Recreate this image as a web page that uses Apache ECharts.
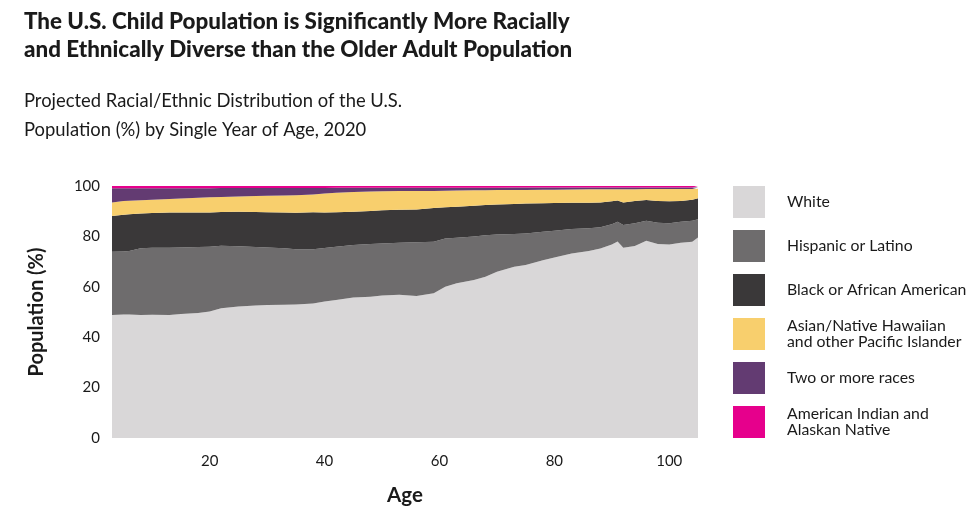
<!DOCTYPE html>
<html>
<head>
<meta charset="utf-8">
<script src="https://cdn.jsdelivr.net/npm/echarts@6/dist/echarts.min.js"></script>
<style>
html,body{margin:0;padding:0;background:#fff;}
#chart{width:980px;height:515px;}
</style>
</head>
<body>
<div id="chart"></div>
<script>
// Ages (single year of age)
var ages = [3,5,6,8,10,13,15,18,20,22,25,28,30,33,35,38,40,42,45,48,50,53,56,59,61,63,66,68,70,73,75,78,80,83,86,88,90,91,92,94,96,98,100,102,104,105];
// Percent of population by group
var white    = [48.8,49.0,49.0,48.8,48.9,48.8,49.2,49.6,50.2,51.5,52.2,52.6,52.8,52.9,53.0,53.4,54.2,54.8,55.8,56.1,56.5,56.8,56.3,57.4,60.0,61.4,62.7,64.0,66.0,68.0,68.7,70.5,71.6,73.2,74.2,75.2,76.8,78.0,75.5,76.2,78.3,77.0,76.8,77.5,77.9,79.6];
var hispanic = [25.1,25.0,25.2,26.5,26.6,26.7,26.4,26.2,25.7,24.8,23.9,23.2,22.8,22.4,21.9,21.5,21.2,21.1,20.8,20.9,20.7,20.7,21.4,20.5,19.2,18.1,17.3,16.5,14.8,13.0,12.5,11.3,10.6,9.7,9.0,8.4,8.0,7.8,9.0,9.0,7.9,8.4,8.4,8.3,8.3,7.2];
var black    = [14.2,14.6,14.6,13.8,13.8,14.0,13.9,13.7,13.6,13.4,13.7,13.9,14.0,14.2,14.5,14.7,14.1,13.7,13.2,13.1,13.2,13.1,13.0,13.4,12.4,12.3,12.2,12.0,11.9,11.9,11.9,11.4,11.1,10.5,10.2,9.9,9.1,8.4,9.0,8.8,8.2,8.6,8.7,8.2,8.3,8.3];
var asian    = [5.4,5.4,5.3,5.2,5.2,5.3,5.5,5.8,6.0,5.9,6.0,6.3,6.5,6.7,6.9,7.0,7.5,7.7,7.8,7.7,7.5,7.4,7.3,6.7,6.5,6.4,6.1,5.8,5.7,5.5,5.3,5.3,5.2,5.2,5.3,5.2,4.8,4.5,5.2,4.7,4.4,4.8,4.9,4.8,4.3,3.8];
var twoPlus  = [5.6,5.1,5.0,4.8,4.6,4.3,4.1,3.8,3.6,3.6,3.4,3.2,3.1,3.0,2.9,2.6,2.2,2.0,1.7,1.5,1.4,1.3,1.3,1.3,1.2,1.1,1.0,1.0,0.9,1.0,1.0,0.9,0.9,0.8,0.7,0.7,0.7,0.7,0.7,0.7,0.6,0.6,0.6,0.6,0.6,0.5];
var aian     = [0.9,0.9,0.9,0.9,0.9,0.9,0.9,0.9,0.9,0.8,0.8,0.8,0.8,0.8,0.8,0.8,0.8,0.7,0.7,0.7,0.7,0.7,0.7,0.7,0.7,0.7,0.7,0.7,0.7,0.6,0.6,0.6,0.6,0.6,0.6,0.6,0.6,0.6,0.6,0.6,0.6,0.6,0.6,0.6,0.6,0.6];
var xTicks = [20,40,60,80,100];
var names = ['White','Hispanic or Latino','Black or African American','Asian/Native Hawaiian and other Pacific Islander','Two or more races','American Indian and Alaskan Native'];
var legendLabels = {
  'Asian/Native Hawaiian and other Pacific Islander':'Asian/Native Hawaiian\nand other Pacific Islander',
  'American Indian and Alaskan Native':'American Indian and\nAlaskan Native'
};
var colors = ['#d9d7d8','#6e6c6d','#3a3839','#f8cf6d','#633b72','#e6008c'];
var values = [white,hispanic,black,asian,twoPlus,aian];

var FONT = 'Lato';
var series = names.map(function(n,i){
  return {
    name:n, type:'line', stack:'total', showSymbol:false, symbol:'none',
    lineStyle:{width:0}, itemStyle:{color:colors[i]},
    areaStyle:{color:colors[i], opacity:1},
    emphasis:{disabled:true},
    encode:{x:1, y:0},
    data: ages.map(function(a,j){ return [values[i][j], a]; })
  };
});

var chart = echarts.init(document.getElementById('chart'));
chart.setOption({
  animation:false,
  title:[
    {text:'The U.S. Child Population is Significantly More Racially\nand Ethnically Diverse than the Older Adult Population',
     left:24, top:8, padding:0, textStyle:{fontFamily:FONT, fontWeight:900, fontSize:22.4, lineHeight:28, color:'#1a1a1a'}},
    {text:'Projected Racial/Ethnic Distribution of the U.S.\nPopulation (%) by Single Year of Age, 2020',
     left:24, top:87, padding:0, textStyle:{fontFamily:FONT, fontWeight:'normal', fontSize:18.4, lineHeight:29, color:'#1a1a1a'}}
  ],
  legend:{
    data:names, orient:'vertical', left:733, top:186, padding:0,
    itemWidth:32, itemHeight:32, itemGap:12, icon:'rect',
    formatter:function(n){ return legendLabels[n] || n; },
    textStyle:{fontFamily:FONT, fontSize:15.8, color:'#1a1a1a', padding:[0,0,0,17], lineHeight:16},
    selectedMode:false
  },
  grid:{left:112, right:282, top:186, bottom:77},
  xAxis:{
    type:'value', min:3, max:105,
    name:'Age', nameLocation:'middle', nameGap:47,
    nameTextStyle:{fontFamily:FONT, fontWeight:'bold', fontSize:20.5, color:'#1a1a1a'},
    axisLine:{show:false}, axisTick:{show:false}, splitLine:{show:false},
    axisLabel:{customValues:xTicks, fontFamily:FONT, fontSize:15, color:'#1a1a1a', margin:16}
  },
  yAxis:{
    type:'value', min:0, max:100, interval:20,
    name:'Population (%)', nameLocation:'middle', nameGap:65, nameRotate:90,
    nameTextStyle:{fontFamily:FONT, fontWeight:'bold', fontSize:20, color:'#1a1a1a'},
    axisLine:{show:false}, axisTick:{show:false}, splitLine:{show:false},
    axisLabel:{fontFamily:FONT, fontSize:15, color:'#1a1a1a', margin:12}
  },
  series:series
});
</script>
</body>
</html>
